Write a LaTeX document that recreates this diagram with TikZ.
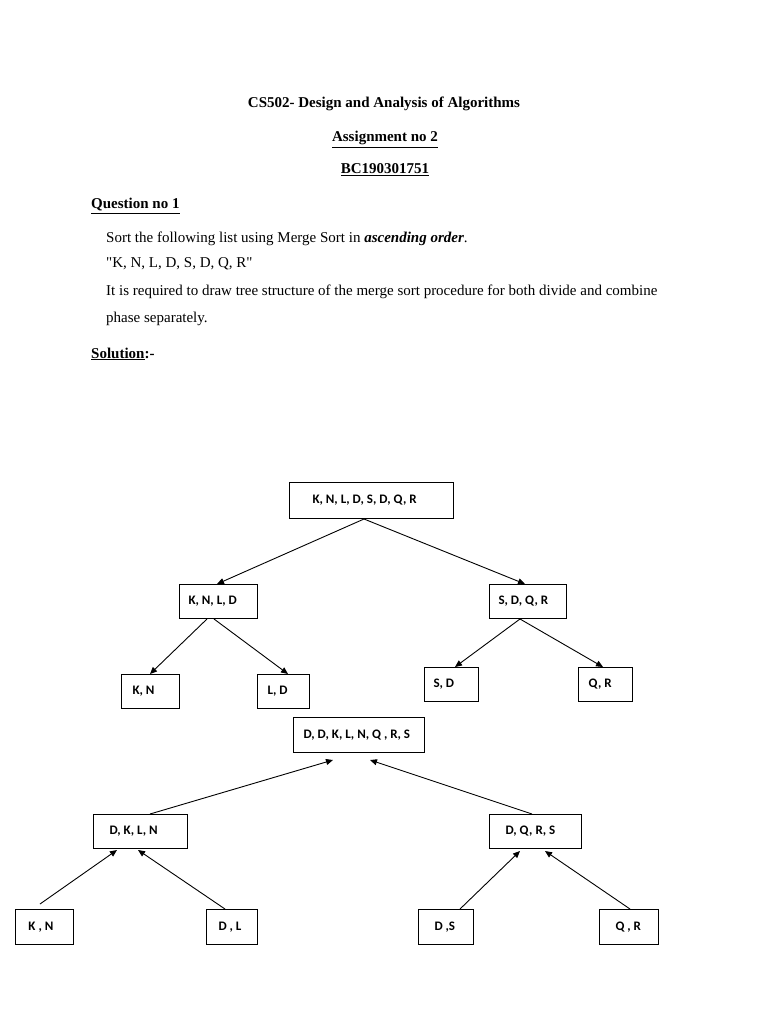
\documentclass[tikz,border=0pt]{standalone}
\usepackage{fontspec}
\setmainfont{Liberation Serif}
\newfontfamily\quotefont{Liberation Serif}[Ligatures=TeXOff]
\newfontfamily\treefont{Carlito}
\usetikzlibrary{arrows.meta}
\tikzset{
  box/.style={draw=black, line width=1pt, rectangle, inner sep=0pt, anchor=north west,
    font=\treefont\bfseries\fontsize{13}{15}\selectfont},
  arr/.style={draw=black, line width=0.9pt, -{Triangle[length=7pt,width=6pt]}},
  body/.style={anchor=base west, inner sep=0pt, font=\fontsize{15}{17}\selectfont},
  head/.style={anchor=base, inner sep=0pt, font=\fontsize{15}{17}\selectfont\bfseries},
}
% name, x, y, width, height, text offset, text
\newcommand\tbox[7]{\node[box, minimum height=#5pt] (#1) at (#2,#3) {\makebox[#4pt][l]{\hspace*{#6pt}#7}};}
\begin{document}
\begin{tikzpicture}[x=1pt,y=-1pt]
\useasboundingbox (0,0) rectangle (768,1024);
\fill[white] (0,0) rectangle (768,1024);

% heading texts
\node[head] (title) at (384,108) {CS502- Design and Analysis of Algorithms};
\node[head] (assign) at (385,142) {\underline{Assignment no 2}};
\node[head] (bc) at (385,174) {\underline{BC190301751}};
\node[body, font=\fontsize{15}{17}\selectfont\bfseries] (q1) at (91,209) {\underline{Question no 1}};
\node[body] (sort) at (106,242) {Sort the following list using Merge Sort in \textbf{\textit{ascending order}}.};
\node[body] (list) at (106,267) {\quotefont"K, N, L, D, S, D, Q, R"};
\node[body] (req) at (106,295) {It is required to draw tree structure of the merge sort procedure for both divide and combine};
\node[body] (phase) at (106,322) {phase separately.};
\node[body, font=\fontsize{15}{17}\selectfont\bfseries] (sol) at (91,358) {\underline{Solution}:-};

% divide tree
\tbox{top}{289}{482}{164}{36}{23}{K, N, L, D, S, D, Q, R}
\tbox{knld}{179}{584}{78}{34}{9}{K, N, L, D}
\tbox{sdqr}{489}{584}{77}{34}{9}{S, D, Q, R}
\tbox{kn}{121}{674}{58}{34}{11}{K, N}
\tbox{ld}{257}{674}{52}{34}{10}{L, D}
\tbox{sd}{424}{667}{54}{34}{9}{S, D}
\tbox{qr}{578}{667}{54}{34}{10}{Q, R}

\draw[arr] ([xshift=75pt]top.south west) -- ([xshift=38pt]knld.north west);
\draw[arr] ([xshift=75pt]top.south west) -- ([xshift=36pt]sdqr.north west);
\draw[arr] ([xshift=28pt]knld.south west) -- ([xshift=29pt]kn.north west);
\draw[arr] ([xshift=35pt]knld.south west) -- ([xshift=31pt]ld.north west);
\draw[arr] ([xshift=31pt]sdqr.south west) -- ([xshift=31pt]sd.north west);
\draw[arr] ([xshift=31pt]sdqr.south west) -- ([xshift=25pt]qr.north west);

% combine tree
\tbox{all}{293}{717}{131}{35}{10}{D, D, K, L, N, Q , R, S}
\tbox{dkln}{93}{814}{94}{34}{16}{D, K, L, N}
\tbox{dqrs}{489}{814}{92}{34}{16}{D, Q, R, S}
\tbox{kn2}{15}{909}{58}{35}{13}{K , N}
\tbox{dl}{206}{909}{51}{35}{12}{D , L}
\tbox{ds}{418}{909}{55}{35}{16}{D ,S}
\tbox{qr2}{599}{909}{59}{35}{16}{Q , R}

\draw[arr] ([xshift=57pt]dkln.north west) -- ([shift={(40pt,-7pt)}]all.south west);
\draw[arr] ([xshift=43pt]dqrs.north west) -- ([shift={(77pt,-7pt)}]all.south west);
\draw[arr] ([shift={(25pt,5pt)}]kn2.north west) -- ([shift={(24pt,-1pt)}]dkln.south west);
\draw[arr] ([xshift=19pt]dl.north west) -- ([shift={(45pt,-1pt)}]dkln.south west);
\draw[arr] ([xshift=42pt]ds.north west) -- ([shift={(31pt,-2pt)}]dqrs.south west);
\draw[arr] ([xshift=31pt]qr2.north west) -- ([shift={(56pt,-2pt)}]dqrs.south west);
\end{tikzpicture}
\end{document}
